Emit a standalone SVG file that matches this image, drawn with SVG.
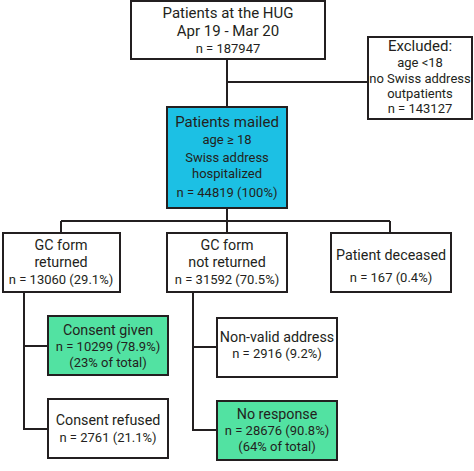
<svg xmlns="http://www.w3.org/2000/svg" width="474" height="471" viewBox="0 0 474 471">
<style>
.box{fill:#fff;stroke:#231f20;stroke-width:2}
.cyan{fill:#1cc0e4}
.green{fill:#52e2a2}
.ln{fill:none;stroke:#231f20;stroke-width:2}
text{font-family:Roboto,"Liberation Sans",sans-serif;fill:#231f20;text-anchor:middle}
.a{font-size:14.3px}
.b{font-size:13px}
.e{font-size:15px}
</style>
<rect width="474" height="471" fill="#fff"/>
<g id="connectors">
<path class="ln" d="M227 59V107M227 82H368M227 208V233M61 221H390M61 221V233M390 221V233M24 292V429H48M24 346H48M193 292V430H217M193 347H217"/>
</g>
<g id="n1"><rect class="box" x="131" y="1" width="194" height="58"/>
<text class="e" x="228" y="18">Patients at the HUG</text>
<text class="e" x="228" y="36">Apr 19 - Mar 20</text>
<text class="b" x="228" y="53">n = 187947</text></g>
<g id="n2"><rect class="box" x="368" y="37" width="104" height="82"/>
<text class="e" x="420" y="51">Excluded:</text>
<text class="b" x="420" y="67">age &lt;18</text>
<text class="b" x="420" y="83">no Swiss address</text>
<text class="b" x="420" y="98">outpatients</text>
<text class="b" x="420" y="113">n = 143127</text></g>
<g id="n3"><rect class="box cyan" x="167" y="107" width="120" height="101"/>
<text class="e" x="227" y="127">Patients mailed</text>
<text class="b" x="227" y="144">age ≥ 18</text>
<text class="b" x="227" y="162">Swiss address</text>
<text class="b" x="227" y="178">hospitalized</text>
<text class="b" x="227" y="197">n = 44819 (100%)</text></g>
<g id="n4"><rect class="box" x="3" y="233" width="117" height="59"/>
<text class="a" x="61" y="250">GC form</text>
<text class="a" x="61" y="267">returned</text>
<text class="b" x="61" y="284">n = 13060 (29.1%)</text></g>
<g id="n5"><rect class="box" x="167" y="233" width="120" height="59"/>
<text class="a" x="227" y="250">GC form</text>
<text class="a" x="227" y="267">not returned</text>
<text class="b" x="227" y="284">n = 31592 (70.5%)</text></g>
<g id="n6"><rect class="box" x="331" y="233" width="120" height="59"/>
<text class="a" x="391" y="260">Patient deceased</text>
<text class="b" x="391" y="282">n = 167 (0.4%)</text></g>
<g id="n7"><rect class="box green" x="48" y="316" width="120" height="59"/>
<text class="a" x="108" y="335">Consent given</text>
<text class="b" x="108" y="351">n = 10299 (78.9%)</text>
<text class="b" x="108" y="367">(23% of total)</text></g>
<g id="n8"><rect class="box" x="48" y="399" width="120" height="59"/>
<text class="a" x="108" y="425">Consent refused</text>
<text class="b" x="108" y="442">n = 2761 (21.1%)</text></g>
<g id="n9"><rect class="box" x="217" y="318" width="120" height="59"/>
<text class="a" x="277" y="342">Non-valid address</text>
<text class="b" x="277" y="358">n = 2916 (9.2%)</text></g>
<g id="n10"><rect class="box green" x="217" y="401" width="120" height="59"/>
<text class="a" x="277" y="419">No response</text>
<text class="b" x="277" y="435">n = 28676 (90.8%)</text>
<text class="b" x="277" y="451">(64% of total)</text></g>
</svg>
